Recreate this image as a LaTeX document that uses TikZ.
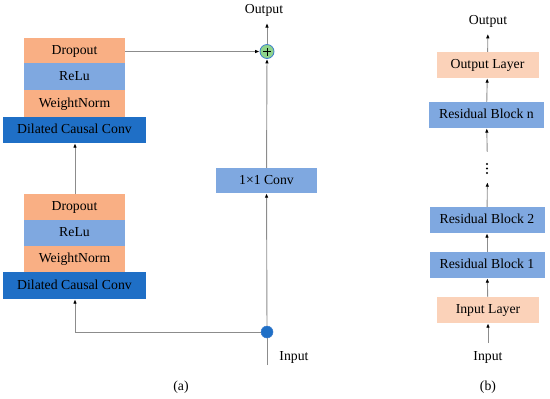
\documentclass[tikz,border=0pt]{standalone}
\usepackage{fontspec}
\setmainfont{Liberation Serif}
\usetikzlibrary{arrows.meta}
\definecolor{orng}{HTML}{F9AF84}
\definecolor{lorng}{HTML}{FBD2B9}
\definecolor{lblue}{HTML}{7FA8E0}
\definecolor{dblue}{HTML}{1F6FC6}
\definecolor{lgreen}{HTML}{8FD48B}
\definecolor{ringblue}{HTML}{3D7DCC}
\definecolor{lgray}{HTML}{8C8C8C}
\begin{document}
\begin{tikzpicture}[x=1bp,y=-1bp,
  every node/.style={font=\fontsize{13.8}{16}\selectfont, text=black},
  box/.style={draw=none, inner sep=0pt, text height=9.6bp, text depth=2.6bp},
  small/.style={box, minimum width=101bp},
  wide/.style={box, minimum width=143bp, fill=dblue},
  rblock/.style={box, minimum width=115bp, minimum height=26bp, fill=lblue},
  layer/.style={box, minimum width=102bp, minimum height=26bp, fill=lorng},
  lbl/.style={inner xsep=2bp, inner ysep=7bp, text height=9.6bp, text depth=2.6bp},
  conn/.style={draw=lgray, line width=0.9bp, -{Latex[length=4.5bp,width=3.6bp,color=black]}},
  plain/.style={draw=lgray, line width=0.9bp},
  adder/.style={circle, draw=ringblue, line width=0.8bp, fill=lgreen, minimum size=14bp, inner sep=0pt,
    path picture={\draw[black, line width=0.8bp]
      ([xshift=-4bp]path picture bounding box.center) -- ([xshift=4bp]path picture bounding box.center)
      ([yshift=-4bp]path picture bounding box.center) -- ([yshift=4bp]path picture bounding box.center);}},
]
\useasboundingbox (0,0) rectangle (550,398);

% ---------- (a) upper stack ----------
\node[small, fill=orng, minimum height=25bp] (dropU) at (74.5,50.5) {Dropout};
\node[small, fill=lblue, minimum height=27bp] (reluU) at (74.5,76.5) {ReLu};
\node[small, fill=orng, minimum height=27bp] (wnU) at (74.5,103.5) {WeightNorm};
\node[wide, minimum height=26bp] (dccU) at (74.5,130) {Dilated Causal Conv};

% ---------- (a) lower stack ----------
\node[small, fill=orng, minimum height=26bp] (dropL) at (74.5,207) {Dropout};
\node[small, fill=lblue, minimum height=26bp] (reluL) at (74.5,233) {ReLu};
\node[small, fill=orng, minimum height=26bp] (wnL) at (74.5,259) {WeightNorm};
\node[wide, minimum height=27bp] (dccL) at (74.5,285.5) {Dilated Causal Conv};

% ---------- (a) right branch ----------
\node[box, fill=lblue, minimum width=101bp, minimum height=25bp] (conv1) at (266.5,180.5) {1×1 Conv};
\node[adder] (plus) at (267,51.5) {};
\node[circle, fill=dblue, draw=ringblue, line width=0.5bp, minimum size=12bp, inner sep=0pt] (dot) at (267,332) {};
\node[lbl] (outA) at (264,9.5) {Output};
\node[lbl] (inA) at (294,356.5) {Input};
\coordinate (inAend) at (267,365);
\coordinate (tipA) at (267,23);
\coordinate (bend) at (75,332);
\node (capA) at (181,387) {(a)};

\draw[plain] (inAend) -- (dot);
\draw[conn] (dot) -- (conv1);
\draw[conn] (conv1) -- (plus);
\draw[conn] (plus) -- (tipA);
\draw[conn] (dropU.east |- plus) -- (plus);
\draw[conn] (dot) -- (bend) -- (dccL.south -| bend);
\draw[conn] (dropL.north -| bend) -- (dccU.south -| bend);

% ---------- (b) ----------
\node[lbl] (outB) at (488,20.5) {Output};
\node[layer] (olayer) at (487.5,65) {Output Layer};
\node[rblock] (resn) at (486.5,115) {Residual Block n};
\node[inner sep=0pt, minimum width=6bp, minimum height=30bp] (dots) at (487.5,167) {};
\fill (487,164) circle (1.1bp) (487,168.5) circle (1.1bp) (487,173) circle (1.1bp);
\node[rblock] (res2) at (487,220) {Residual Block 2};
\node[rblock] (res1) at (487,265) {Residual Block 1};
\node[layer] (ilayer) at (488,310) {Input Layer};
\node[lbl] (inB) at (488,356.5) {Input};
\node (capB) at (488,387) {(b)};

\draw[conn] (inB) -- (ilayer);
\draw[conn] (ilayer) -- (res1);
\draw[conn] (res1) -- (res2);
\draw[conn] (res2) -- (dots);
\draw[conn] (dots) -- (resn);
\draw[conn] (resn) -- (olayer);
\draw[conn] (olayer) -- (outB);
\end{tikzpicture}
\end{document}
